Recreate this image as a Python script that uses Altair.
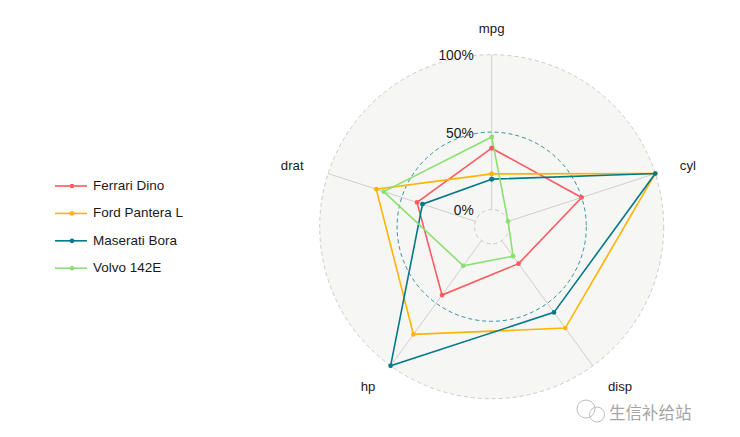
import altair as alt
import pandas as pd

# ---- data (mtcars, rescaled 0-1 as in the reference) ----
groups = ["Ferrari Dino", "Ford Pantera L", "Maserati Bora", "Volvo 142E"]
axis_names = ["mpg", "cyl", "disp", "hp", "drat"]
ferrari_dino = [0.396, 0.500, 0.184, 0.435, 0.396]
ford_pantera = [0.230, 1.000, 0.698, 0.749, 0.673]
maserati_bora = [0.196, 1.000, 0.573, 1.000, 0.359]
volvo_142e = [0.468, 0.000, 0.124, 0.201, 0.622]
colors = ["#FF5A5F", "#FFB400", "#007A87", "#8CE071"]
grid_values = [0.0, 0.5, 1.0]
grid_labels = ["0%", "50%", "100%"]
grid_colors = ["#BEBEBE", "#007A87", "#BEBEBE"]
watermark = "生信补给站"

# ---- layout constants ----
W, H = 724, 421
CX, CY = 483.7, 218.7
R = 172.0
N = len(axis_names)

series = [ferrari_dino, ford_pantera, maserati_bora, volvo_142e]
rows = []
for g, vals in zip(groups, series):
    for k in range(N + 1):
        rows.append({"group": g, "k": k, "value": vals[k % N]})
df = pd.DataFrame(rows)
axes_df = pd.DataFrame({"axis": axis_names, "k": list(range(N))})
grid_df = pd.DataFrame({"v": grid_values, "label": grid_labels, "col": grid_colors})
leg_df = pd.DataFrame({"group": groups, "i": list(range(len(groups)))})

xs = alt.Scale(domain=[-CX / R, (W - CX) / R], nice=False, zero=False)
ys = alt.Scale(domain=[-(H - CY) / R, CY / R], nice=False, zero=False)
cscale = alt.Scale(domain=groups, range=colors)

RHO = "(datum.value + 1/9) / (10/9)"

# background disc
bg = alt.Chart(pd.DataFrame({"a": [0]})).mark_point(
    shape="circle", filled=True, fill="#F6F6F4", strokeWidth=0, opacity=1
).encode(
    x=alt.X("z:Q", scale=xs, axis=None),
    y=alt.Y("z:Q", scale=ys, axis=None),
    size=alt.value((2 * R) ** 2),
).transform_calculate(z="0")

# grid circles
grid = alt.Chart(grid_df).mark_point(
    shape="circle", filled=False, strokeWidth=0.8, strokeDash=[4, 3], opacity=1
).encode(
    x=alt.X("z:Q", scale=xs, axis=None),
    y=alt.Y("z:Q", scale=ys, axis=None),
    size=alt.Size("sz:Q", scale=None, legend=None),
    stroke=alt.Stroke("col:N", scale=None, legend=None),
).transform_calculate(
    z="0",
    rho="(datum.v + 1/9) / (10/9)",
    sz=f"pow(2 * datum.rho * {R}, 2)",
)

# axis lines
axis_lines = alt.Chart(axes_df).mark_rule(color="#C4C4C4", strokeWidth=0.8).encode(
    x=alt.X("x1:Q", scale=xs, axis=None),
    y=alt.Y("y1:Q", scale=ys, axis=None),
    x2="x2:Q",
    y2="y2:Q",
).transform_calculate(
    ang=f"2 * PI * datum.k / {N}",
    x1="0.1 * sin(datum.ang)", y1="0.1 * cos(datum.ang)",
    x2="sin(datum.ang)", y2="cos(datum.ang)",
)

# axis labels
def axis_text(filt, align):
    return alt.Chart(axes_df).mark_text(
        align=align, baseline="middle", fontSize=13.2, color="#1a1a1a"
    ).encode(
        x=alt.X("lx:Q", scale=xs, axis=None),
        y=alt.Y("ly:Q", scale=ys, axis=None),
        text="axis:N",
    ).transform_calculate(
        ang=f"2 * PI * datum.k / {N}",
        lx="1.15 * sin(datum.ang)", ly="1.15 * cos(datum.ang)",
    ).transform_filter(filt)

lab_c = axis_text("abs(datum.lx) < 0.01", "center")
lab_r = axis_text("datum.lx >= 0.01", "left")
lab_l = axis_text("datum.lx <= -0.01", "right")

# grid labels
grid_text = alt.Chart(grid_df).mark_text(
    align="right", baseline="middle", fontSize=13.8, color="#1a1a1a", dx=-18, dy=1.5
).encode(
    x=alt.X("z:Q", scale=xs, axis=None),
    y=alt.Y("rho:Q", scale=ys, axis=None),
    text="label:N",
).transform_calculate(z="0", rho="(datum.v + 1/9) / (10/9)")

# series
base = alt.Chart(df).transform_calculate(
    ang=f"2 * PI * datum.k / {N}",
    rho=RHO,
    px="datum.rho * sin(datum.ang)",
    py="datum.rho * cos(datum.ang)",
)
lines = base.mark_line(strokeWidth=1.6).encode(
    x=alt.X("px:Q", scale=xs, axis=None),
    y=alt.Y("py:Q", scale=ys, axis=None),
    color=alt.Color("group:N", scale=cscale, legend=None),
    order="k:Q",
)
pts = base.mark_point(filled=True, size=22, opacity=1).encode(
    x=alt.X("px:Q", scale=xs, axis=None),
    y=alt.Y("py:Q", scale=ys, axis=None),
    color=alt.Color("group:N", scale=cscale, legend=None),
)

# legend (manual)
LX0, LX1, LDOT, LTX, LY0, LDY = 47, 79, 64, 85, 178, 27.4
leg = alt.Chart(leg_df).transform_calculate(ly=f"{LY0} + datum.i * {LDY}")
leg_line = leg.mark_rule(strokeWidth=1.6).encode(
    x=alt.value(LX0), x2=alt.value(LX1),
    y=alt.Y("ly:Q", scale=None),
    color=alt.Color("group:N", scale=cscale, legend=None),
)
leg_dot = leg.mark_point(filled=True, size=22, opacity=1).encode(
    x=alt.value(LDOT),
    y=alt.Y("ly:Q", scale=None),
    color=alt.Color("group:N", scale=cscale, legend=None),
)
leg_txt = leg.mark_text(align="left", baseline="middle", fontSize=13.5, color="#1a1a1a").encode(
    x=alt.value(LTX),
    y=alt.Y("ly:Q", scale=None),
    text="group:N",
)

# watermark
wm = alt.Chart(pd.DataFrame({"t": [watermark]})).mark_text(
    align="left", baseline="middle", fontSize=16.5, color="#a6a6a6",
    font="Noto Sans CJK SC",
).encode(x=alt.value(601), y=alt.value(405.5), text="t:N")
wm_icon = alt.Chart(pd.DataFrame({"s": [324, 225], "px": [578, 589], "py": [401, 406.5]})).mark_point(
    shape="circle", filled=False, color="#bdbdbd", strokeWidth=1, opacity=1
).encode(
    x=alt.X("px:Q", scale=None), y=alt.Y("py:Q", scale=None),
    size=alt.Size("s:Q", scale=None, legend=None),
)

chart = alt.layer(
    bg, grid, axis_lines, lab_c, lab_r, lab_l, grid_text, lines, pts,
    leg_line, leg_dot, leg_txt, wm, wm_icon
).properties(
    width=W, height=H, autosize="none", padding=0
).configure(font="Liberation Sans").configure_view(stroke=None)

chart.save("out.html", embed_options={"renderer": "svg", "actions": False})
